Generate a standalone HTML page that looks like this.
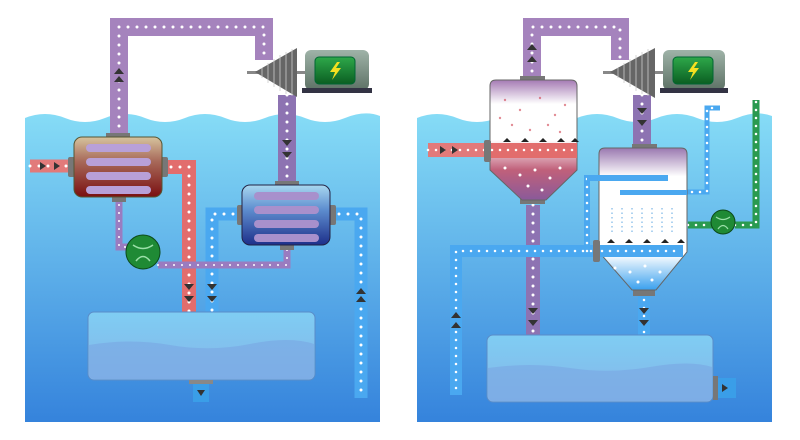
<!DOCTYPE html>
<html><head><meta charset="utf-8"><style>html,body{margin:0;padding:0;background:#fff}svg{display:block}</style></head><body>
<svg width="800" height="440" viewBox="0 0 800 440" xmlns="http://www.w3.org/2000/svg">
<defs>
<linearGradient id="water" x1="0" y1="0" x2="0" y2="1"><stop offset="0" stop-color="#86dcf6"/><stop offset="1" stop-color="#3583dc"/></linearGradient>
<linearGradient id="tank" x1="0" y1="0" x2="0" y2="1"><stop offset="0" stop-color="#7fcdf3"/><stop offset="1" stop-color="#84b5e8"/></linearGradient>
<linearGradient id="hx1" x1="0" y1="0" x2="0" y2="1"><stop offset="0" stop-color="#d6c49e"/><stop offset="0.4" stop-color="#a86a5a"/><stop offset="1" stop-color="#7a0f10"/></linearGradient>
<linearGradient id="hx2" x1="0" y1="0" x2="0" y2="1"><stop offset="0" stop-color="#a9d8f0"/><stop offset="0.4" stop-color="#5f8fd0"/><stop offset="1" stop-color="#1d2f8a"/></linearGradient>
<linearGradient id="ev1" x1="0" y1="0" x2="0" y2="1"><stop offset="0" stop-color="#a57ab4"/><stop offset="0.2" stop-color="#fff"/><stop offset="0.5" stop-color="#fff"/><stop offset="0.75" stop-color="#c0607a"/><stop offset="1" stop-color="#8a5a9a"/></linearGradient>
<linearGradient id="ev2" x1="0" y1="0" x2="0" y2="1"><stop offset="0" stop-color="#9a78b0"/><stop offset="0.2" stop-color="#fff"/><stop offset="0.75" stop-color="#fff"/><stop offset="1" stop-color="#3aa0ee"/></linearGradient>
<linearGradient id="motor" x1="0" y1="0" x2="0" y2="1"><stop offset="0" stop-color="#9fb3a8"/><stop offset="1" stop-color="#5e7266"/></linearGradient>
<linearGradient id="bat" x1="0" y1="0" x2="0" y2="1"><stop offset="0" stop-color="#2ea84a"/><stop offset="1" stop-color="#0b5e22"/></linearGradient>
</defs>

<!-- LEFT PANEL water -->
<path d="M25 118 Q45 110 65 118 T105 118 T145 118 T185 118 T225 118 T265 118 T305 118 T345 118 T380 116 V422 H25Z" fill="url(#water)"/>
<!-- RIGHT PANEL water -->
<path d="M417 118 Q437 110 457 118 T497 118 T537 118 T577 118 T617 118 T657 118 T697 118 T737 118 T772 116 V422 H417Z" fill="url(#water)"/>

<g fill="none" stroke-linejoin="miter">
<!-- left purple loop -->
<path d="M119 135 V27 H264 V60" stroke="#a583bd" stroke-width="18"/>
<path d="M287 95 V183" stroke="#8d73b2" stroke-width="18"/>
<path d="M119 135 V27 H264 V60 M287 95 V183" stroke="#fff" stroke-width="3" stroke-linecap="round" stroke-dasharray="0 9"/>
<!-- red -->
<path d="M30 166 H74" stroke="#e27a7a" stroke-width="13"/>
<path d="M162 167 H189 V318" stroke="#e26d6d" stroke-width="14"/>
<path d="M30 166 H74 M162 167 H189 V318" stroke="#fff" stroke-width="3" stroke-linecap="round" stroke-dasharray="0 9"/>
<!-- blue -->
<path d="M242 214 H212 V318 M330 214 H361 V398" stroke="#4aa8f0" stroke-width="13"/>
<path d="M242 214 H212 V318 M330 214 H361 V398" stroke="#fff" stroke-width="3" stroke-linecap="round" stroke-dasharray="0 9"/>
<!-- purple bottom -->
<path d="M119 197 V247 H132 M158 265 H287 V245" stroke="#9a7cc0" stroke-width="7"/>
<path d="M119 197 V247 H132 M158 265 H287 V245" stroke="#fff" stroke-width="2" stroke-linecap="round" stroke-dasharray="0 8"/>
<!-- dots in tank -->
<path d="M189 325 V345 M213 325 V348" stroke="#fff" stroke-width="3" stroke-linecap="round" stroke-dasharray="0 9"/>
</g>

<!-- left tank -->
<rect x="88" y="312" width="227" height="68" rx="6" fill="url(#tank)" stroke="#5a8cc8"/>
<path d="M89 345 Q130 338 170 345 T250 344 T314 344 V374 Q314 379 308 379 H95 Q89 379 89 374Z" fill="#7aa9e4" opacity="0.7"/>
<rect x="189" y="380" width="24" height="4" fill="#888"/>
<rect x="193" y="384" width="16" height="18" fill="#3a9ee8"/>
<path d="M197 390 l4 6 l4 -6z" fill="#333"/>

<!-- HX1 -->
<rect x="106" y="133" width="24" height="6" fill="#777"/>
<rect x="68" y="157" width="7" height="20" rx="2" fill="#777"/>
<rect x="161" y="157" width="7" height="20" rx="2" fill="#777"/>
<rect x="112" y="196" width="14" height="6" fill="#777"/>
<rect x="74" y="137" width="88" height="60" rx="8" fill="url(#hx1)" stroke="#553"/>
<g fill="#b8a0d8"><rect x="86" y="144" width="65" height="8" rx="4"/><rect x="86" y="158" width="65" height="8" rx="4"/><rect x="86" y="172" width="65" height="8" rx="4"/><rect x="86" y="186" width="65" height="8" rx="4"/></g>
<!-- HX2 -->
<rect x="275" y="181" width="24" height="6" fill="#777"/>
<rect x="237" y="205" width="7" height="20" rx="2" fill="#777"/>
<rect x="329" y="205" width="7" height="20" rx="2" fill="#777"/>
<rect x="280" y="244" width="14" height="6" fill="#777"/>
<rect x="242" y="185" width="88" height="60" rx="8" fill="url(#hx2)" stroke="#224"/>
<g fill="#a890cc"><rect x="254" y="192" width="65" height="8" rx="4"/><rect x="254" y="206" width="65" height="8" rx="4"/><rect x="254" y="220" width="65" height="8" rx="4"/><rect x="254" y="234" width="65" height="8" rx="4"/></g>
<!-- pump -->
<circle cx="143" cy="252" r="17" fill="#1f8a35" stroke="#0c4a1a"/>
<path d="M133 245 Q143 252 153 245 M136 261 Q143 252 150 261" stroke="#9be0a8" stroke-width="1.5" fill="none"/>

<!-- turbine + motor (left) -->
<rect x="247" y="71" width="60" height="3" fill="#888"/>
<path d="M255 72 L297 48 V97 Z" fill="#666"/>
<g stroke="#ccc" stroke-width="0.8"><path d="M262 68V78M268 63V83M274 59V87M280 55V91M286 52V94M292 49V96"/></g>
<rect x="305" y="50" width="64" height="40" rx="6" fill="url(#motor)"/>
<rect x="302" y="88" width="70" height="5" fill="#334"/>
<rect x="315" y="57" width="40" height="27" rx="4" fill="url(#bat)" stroke="#063"/>
<path d="M337 62 L330 72 H335 L332 80 L341 68 H336 L340 62Z" fill="#f4e020"/>

<!-- arrows left -->
<g fill="#333"><path d="M114 74 l5 -6 l5 6z M114 82 l5 -6 l5 6z M282 140 l5 6 l5 -6z M282 152 l5 6 l5 -6z M184 284 l5 6 l5 -6z M184 296 l5 6 l5 -6z M207 284 l5 6 l5 -6z M207 296 l5 6 l5 -6z M356 294 l5 -6 l5 6z M356 302 l5 -6 l5 6z M40 162 l6 4 l-6 4z M54 162 l6 4 l-6 4z"/></g>

<!-- RIGHT PANEL pipes -->
<g fill="none">
<path d="M532 80 V27 H620 V60" stroke="#a583bd" stroke-width="18"/>
<path d="M642 95 V148" stroke="#8d73b2" stroke-width="18"/>
<path d="M533 205 V345" stroke="#8d73b2" stroke-width="14"/>
<path d="M532 80 V27 H620 V60 M642 95 V148 M533 205 V345" stroke="#fff" stroke-width="3" stroke-linecap="round" stroke-dasharray="0 9"/>
<path d="M428 150 H490" stroke="#e27a7a" stroke-width="14"/>
<path d="M599 251 H456 V395 M644 292 V345" stroke="#4aa8f0" stroke-width="12"/>
<path d="M587 251 V178 H668" stroke="#4aa8f0" stroke-width="6"/>
<path d="M620 192 H707 V108 H720" stroke="#4aa8f0" stroke-width="5"/>
<path d="M688 225 H712 M735 225 H756 V100" stroke="#2a9a50" stroke-width="7"/>
<path d="M428 150 H490 M599 251 H456 V395 M644 292 V345 M587 251 V178 H668 M620 192 H707 V108 H720 M688 225 H712 M735 225 H756 V100" stroke="#fff" stroke-width="2.5" stroke-linecap="round" stroke-dasharray="0 8"/>
<path d="M533 352 V378 M644 352 V378" stroke="#fff" stroke-width="3" stroke-linecap="round" stroke-dasharray="0 9"/>
</g>

<!-- right tank -->
<rect x="487" y="335" width="226" height="67" rx="6" fill="url(#tank)" stroke="#5a8cc8"/>
<path d="M488 368 Q530 362 570 368 T650 367 T712 367 V396 Q712 401 706 401 H494 Q488 401 488 396Z" fill="#7aa9e4" opacity="0.7"/>
<rect x="713" y="376" width="5" height="24" fill="#777"/>
<rect x="718" y="378" width="18" height="20" fill="#3a9ee8"/>
<path d="M722 384 l6 4 l-6 4z" fill="#333"/>

<!-- evaporator 1 -->
<rect x="520" y="76" width="25" height="6" fill="#777"/>
<rect x="520" y="198" width="25" height="6" fill="#777"/>
<path d="M496 80 H571 Q577 80 577 86 V170 L546 200 H522 L490 170 V86 Q490 80 496 80Z" fill="url(#ev1)" stroke="#666"/>
<rect x="490" y="143" width="87" height="15" fill="#e26d6d"/>
<path d="M492 150 H575" stroke="#fff" stroke-width="2.5" stroke-linecap="round" stroke-dasharray="0 8" fill="none"/>
<rect x="484" y="140" width="7" height="22" rx="2" fill="#777"/>
<g fill="#222"><path d="M503 142 l4-4 l4 4z M521 142 l4-4 l4 4z M539 142 l4-4 l4 4z M557 142 l4-4 l4 4z M571 142 l4-4 l4 4z"/></g>
<g fill="#d04050" opacity="0.6"><circle cx="505" cy="100" r="1.2"/><circle cx="520" cy="110" r="1.2"/><circle cx="540" cy="98" r="1.2"/><circle cx="555" cy="115" r="1.2"/><circle cx="512" cy="125" r="1.2"/><circle cx="530" cy="130" r="1.2"/><circle cx="548" cy="125" r="1.2"/><circle cx="565" cy="105" r="1.2"/><circle cx="500" cy="118" r="1.2"/><circle cx="560" cy="132" r="1.2"/></g>
<g fill="#fff"><circle cx="505" cy="168" r="1.5"/><circle cx="520" cy="175" r="1.5"/><circle cx="535" cy="170" r="1.5"/><circle cx="550" cy="178" r="1.5"/><circle cx="528" cy="186" r="1.5"/><circle cx="542" cy="190" r="1.5"/><circle cx="560" cy="168" r="1.5"/></g>

<!-- evaporator 2 -->
<rect x="632" y="144" width="25" height="6" fill="#777"/>
<rect x="633" y="290" width="22" height="6" fill="#777"/>
<path d="M605 148 H681 Q687 148 687 154 V252 L656 290 H632 L599 252 V154 Q599 148 605 148Z" fill="url(#ev2)" stroke="#666"/>
<rect x="599" y="245" width="84" height="12" fill="#4aa8f0"/>
<path d="M602 251 H680" stroke="#fff" stroke-width="2.5" stroke-linecap="round" stroke-dasharray="0 8" fill="none"/>
<rect x="593" y="240" width="7" height="22" rx="2" fill="#777"/>
<rect x="587" y="175" width="81" height="6" fill="#4aa8f0"/>
<rect x="620" y="190" width="67" height="5" fill="#4aa8f0"/>
<g fill="#222"><path d="M607 243 l4-4 l4 4z M625 243 l4-4 l4 4z M643 243 l4-4 l4 4z M661 243 l4-4 l4 4z M677 243 l4-4 l4 4z"/></g>
<g stroke="#7ab6e6" stroke-width="1.2" stroke-dasharray="1.5 3"><path d="M612 208V232M622 208V232M632 208V232M642 208V232M652 208V232M662 208V232M672 208V232"/></g>
<g fill="#fff"><circle cx="615" cy="268" r="1.5"/><circle cx="630" cy="272" r="1.5"/><circle cx="645" cy="266" r="1.5"/><circle cx="660" cy="272" r="1.5"/><circle cx="638" cy="282" r="1.5"/><circle cx="652" cy="280" r="1.5"/></g>

<!-- green pump right -->
<circle cx="723" cy="222" r="12" fill="#1f8a35" stroke="#0c4a1a"/>
<path d="M716 217 Q723 222 730 217 M718 229 Q723 222 728 229" stroke="#9be0a8" stroke-width="1.2" fill="none"/>

<!-- turbine + motor (right) -->
<rect x="603" y="71" width="60" height="3" fill="#888"/>
<path d="M610 72 L655 48 V98 Z" fill="#666"/>
<g stroke="#ccc" stroke-width="0.8"><path d="M618 68V78M624 63V83M630 59V87M636 55V91M642 52V94M648 49V96"/></g>
<rect x="663" y="50" width="62" height="40" rx="6" fill="url(#motor)"/>
<rect x="660" y="88" width="68" height="5" fill="#334"/>
<rect x="673" y="57" width="40" height="27" rx="4" fill="url(#bat)" stroke="#063"/>
<path d="M695 62 L688 72 H693 L690 80 L699 68 H694 L698 62Z" fill="#f4e020"/>

<!-- arrows right -->
<g fill="#333"><path d="M527 50 l5 -6 l5 6z M527 62 l5 -6 l5 6z M637 108 l5 6 l5 -6z M637 120 l5 6 l5 -6z M528 308 l5 6 l5 -6z M528 320 l5 6 l5 -6z M639 308 l5 6 l5 -6z M639 320 l5 6 l5 -6z M451 318 l5 -6 l5 6z M451 328 l5 -6 l5 6z M440 146 l6 4 l-6 4z M452 146 l6 4 l-6 4z"/></g>
</svg>
</body></html>
